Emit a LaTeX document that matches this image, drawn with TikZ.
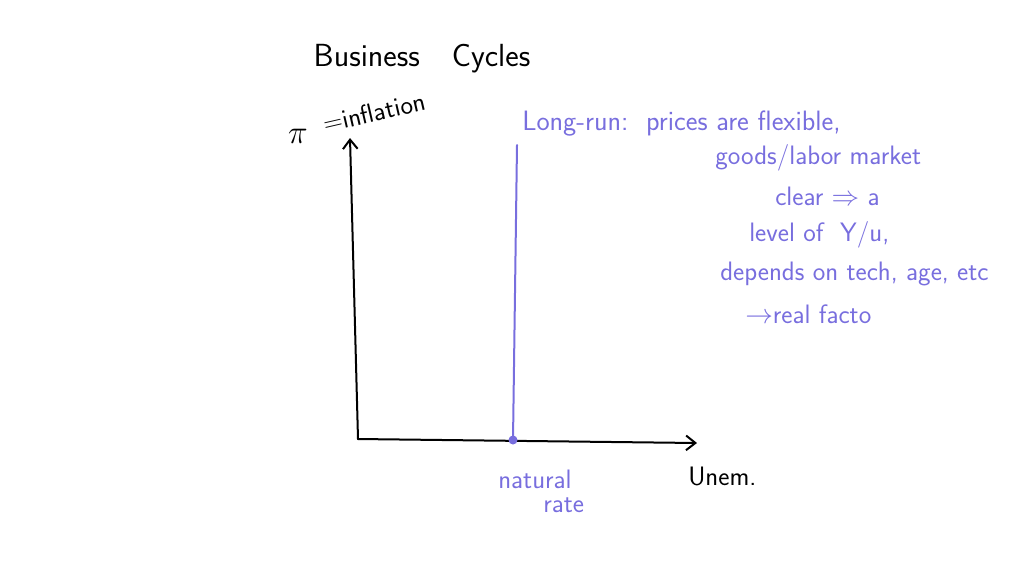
\documentclass[tikz,border=0pt]{standalone}
\usepackage{amsmath}
\usepackage{amssymb}
\usepackage{tikz}
\usetikzlibrary{arrows.meta}

\definecolor{penpurple}{RGB}{120,110,222}

\begin{document}
\begin{tikzpicture}[x=0.75pt,y=0.75pt,yscale=-1,
    ink/.style={line width=1.5pt,line cap=round},
    hand/.style={font=\sffamily\fontsize{20}{24}\selectfont,inner sep=0.75pt},
    note/.style={hand,text=penpurple}]
        \useasboundingbox (0,0) rectangle (1024,576);

        % Axes corners
        \coordinate (orig) at (358,439);
        \coordinate (ytop) at (350,138);
        \coordinate (xend) at (697,443);
        %Straight Lines: vertical axis
        \draw [ink,-{Straight Barb[length=7pt,width=11pt]}] (orig) -- (ytop) ;
        %Straight Lines: horizontal axis
        \draw [ink,-{Straight Barb[length=7pt,width=11pt]}] (orig) -- (xend) ;

        % Long-run line
        \coordinate (natpt) at (513,440);
        \coordinate (lrtop) at (517,145);
        \draw [ink,color=penpurple] (natpt) -- (lrtop) ;
        \fill [penpurple] (natpt) circle (4.5) ;

        % Text Node
        \node [hand,font=\sffamily\fontsize{24}{28}\selectfont] (title) at (422,59) {Business\quad Cycles};
        % Text Node
        \node [hand,font=\fontsize{36}{40}\selectfont] (pi) at (298,136) {$\pi$};
        % Text Node
        \node [hand,anchor=west,rotate=13,inner sep=0pt] (infl) at (323,124) {=inflation};
        % Text Node
        \node [hand,anchor=west] (unem) at (687,476) {Unem.};

        % Text Node
        \node [note,anchor=west,font=\sffamily\fontsize{21}{24}\selectfont] (lr1) at (521,124) {Long-run:\ \ prices are flexible,};
        % Text Node
        \node [note,anchor=west] (lr2) at (714,158) {goods/labor market};
        % Text Node
        \node [note,anchor=west] (lr3) at (774,196) {clear $\Rightarrow$ a};
        % Text Node
        \node [note,anchor=west] (lr4) at (748,235) {level of\ \ Y/u,};
        % Text Node
        \node [note,anchor=west] (lr5) at (719,274) {depends on tech, age, etc};
        % Text Node
        \node [note,anchor=west] (lr6) at (744,314) {$\rightarrow$real facto};
        % Text Node
        \node [note,anchor=west] (nat1) at (497,479) {natural};
        % Text Node
        \node [note,anchor=west] (nat2) at (542,505) {rate};
\end{tikzpicture}
\end{document}
